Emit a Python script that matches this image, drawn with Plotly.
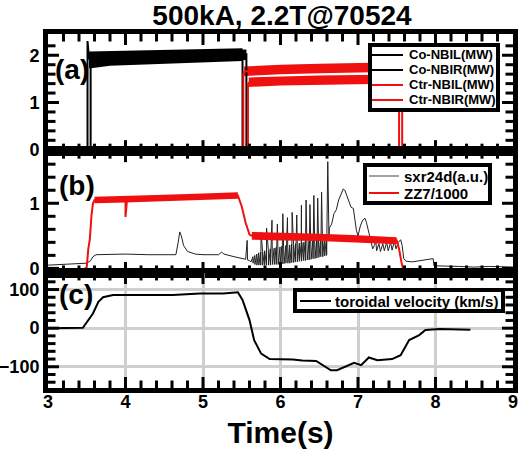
import plotly.graph_objects as go

# ---------------- panel (a): NBI power (MW) ----------------
co_l_t = [3.0, 3.51, 3.51, 3.53, 4.0, 4.5, 5.0, 5.51, 5.51, 9.0]
co_l_v = [0.0, 0.0, 2.30, 1.93, 1.96, 1.98, 2.01, 2.04, 0.0, 0.0]
co_l_band_t = [3.53, 3.8, 4.5, 5.0, 5.51]
co_l_band_lo = [1.72, 1.78, 1.82, 1.85, 1.88]
co_l_band_hi = [2.08, 2.09, 2.11, 2.13, 2.15]

co_r_t = [3.0, 3.55, 3.55, 3.57, 4.0, 4.5, 5.0, 5.56, 5.56, 9.0]
co_r_v = [0.0, 0.0, 1.95, 1.92, 1.94, 1.97, 2.00, 2.02, 0.0, 0.0]
co_r_band_t = [3.56, 3.8, 4.5, 5.0, 5.56]
co_r_band_lo = [1.74, 1.80, 1.84, 1.87, 1.90]
co_r_band_hi = [2.04, 2.06, 2.08, 2.10, 2.12]

ctr_l_t = [3.0, 5.52, 5.52, 5.55, 6.0, 6.5, 7.0, 7.53, 7.53, 9.0]
ctr_l_v = [0.0, 0.0, 1.62, 1.66, 1.70, 1.72, 1.74, 1.75, 0.0, 0.0]
ctr_l_band_t = [5.53, 6.0, 6.5, 7.0, 7.53]
ctr_l_band_lo = [1.56, 1.60, 1.62, 1.64, 1.65]
ctr_l_band_hi = [1.76, 1.80, 1.82, 1.84, 1.85]

ctr_r_t = [3.0, 5.58, 5.58, 5.60, 6.0, 6.5, 7.0, 7.57, 7.57, 9.0]
ctr_r_v = [0.0, 0.0, 1.40, 1.43, 1.45, 1.47, 1.48, 1.49, 0.0, 0.0]
ctr_r_band_t = [5.59, 6.0, 6.5, 7.0, 7.57]
ctr_r_band_lo = [1.33, 1.36, 1.38, 1.39, 1.40]
ctr_r_band_hi = [1.53, 1.55, 1.57, 1.58, 1.59]

# ---------------- panel (b): sxr24d (a.u.) and ZZ7/1000 ----------------
sxr_pre_t = [3.0, 3.2, 3.4, 3.5, 3.55, 3.58, 3.62, 4.0, 4.3, 4.65, 4.68, 4.70, 4.72,
             4.75, 4.80, 4.90, 5.0, 5.2, 5.24, 5.27, 5.4, 5.5, 5.55, 5.57, 5.575, 5.60]
sxr_pre_v = [0.05, 0.06, 0.07, 0.08, 0.12, 0.18, 0.21, 0.22, 0.21, 0.21, 0.40, 0.56, 0.50,
             0.35, 0.26, 0.22, 0.21, 0.21, 0.25, 0.22, 0.18, 0.16, 0.14, 0.43, 0.13, 0.12]
# sawtooth 5.62 - 6.62 s : crash every 0.025 s, trough and peak of each tooth
saw_start = 5.62
saw_period = 0.025
saw_lo = [0.10, 0.08, 0.06, 0.05, 0.05, 0.05, 0.05, 0.05, 0.05, 0.05,
          0.05, 0.06, 0.06, 0.06, 0.06, 0.07, 0.07, 0.07, 0.08, 0.08,
          0.08, 0.09, 0.09, 0.10, 0.10, 0.11, 0.11, 0.12, 0.12, 0.13,
          0.13, 0.14, 0.15, 0.15, 0.16, 0.17, 0.18, 0.18, 0.19, 0.20]
saw_hi = [0.18, 0.20, 0.22, 0.24, 0.25, 0.26, 0.27, 0.28, 0.28, 0.30,
          0.30, 0.31, 0.32, 0.32, 0.33, 0.34, 0.34, 0.35, 0.35, 0.36,
          0.37, 0.37, 0.38, 0.38, 0.39, 0.40, 0.40, 0.41, 0.42, 0.42,
          0.43, 0.44, 0.44, 0.45, 0.46, 0.46, 0.47, 0.48, 0.48, 0.50]
spike_t = [5.75, 5.82, 5.89, 5.96, 6.03, 6.09, 6.15, 6.21, 6.27, 6.33, 6.38, 6.43, 6.48, 6.53, 6.61]
spike_v = [0.55, 0.62, 0.74, 0.68, 0.84, 0.78, 0.86, 0.82, 0.97, 1.05, 0.98, 1.12, 1.08, 1.17, 1.64]
sxr_post_t = [6.625, 6.63, 6.66, 6.69, 6.72, 6.75, 6.78, 6.81, 6.83, 6.86, 6.89, 6.91, 6.94,
              6.96, 6.98, 7.00, 7.03, 7.06, 7.09, 7.11, 7.14, 7.17, 7.19, 7.21, 7.23, 7.24,
              7.27, 7.29, 7.32, 7.34, 7.37, 7.39, 7.42, 7.44, 7.47, 7.49, 7.52, 7.55, 7.57,
              7.59, 7.62, 7.70, 7.80, 7.90, 7.97, 7.98, 8.10, 8.30, 8.50, 8.70, 9.0]
sxr_post_v = [0.50, 0.62, 0.68, 0.84, 0.90, 1.05, 1.15, 1.22, 1.20, 1.10, 1.00, 0.94, 0.92,
              0.75, 0.58, 0.50, 0.65, 0.74, 0.77, 0.70, 0.54, 0.40, 0.30, 0.35, 0.42, 0.27,
              0.38, 0.26, 0.38, 0.27, 0.40, 0.27, 0.40, 0.28, 0.42, 0.30, 0.40, 0.44, 0.35,
              0.15, 0.11, 0.10, 0.12, 0.13, 0.15, 0.04, 0.04, 0.03, 0.02, 0.03, 0.02]

zz7_t = [3.48, 3.50, 3.52, 3.54, 3.56, 3.58, 3.60, 4.0, 4.0, 4.01, 4.02, 4.5, 5.0, 5.45,
         5.50, 5.55, 5.60, 5.63, 6.0, 6.5, 7.0, 7.5, 7.53, 7.56, 7.58]
zz7_v = [0.0, 0.02, 0.30, 0.45, 0.80, 1.00, 1.05, 1.06, 0.79, 1.00, 1.06, 1.08, 1.10, 1.12,
         0.95, 0.70, 0.52, 0.50, 0.49, 0.48, 0.46, 0.43, 0.30, 0.10, 0.0]
zz7_band1_t = [3.60, 4.0, 4.5, 5.0, 5.45]
zz7_band1_lo = [1.00, 1.01, 1.03, 1.05, 1.07]
zz7_band1_hi = [1.10, 1.11, 1.13, 1.15, 1.17]
zz7_band2_t = [5.63, 6.0, 6.5, 7.0, 7.5]
zz7_band2_lo = [0.44, 0.43, 0.42, 0.40, 0.37]
zz7_band2_hi = [0.56, 0.55, 0.53, 0.51, 0.48]

# ---------------- panel (c): toroidal velocity (km/s) ----------------
vt_t = [3.0, 3.22, 3.45, 3.58, 3.65, 3.71, 3.84, 4.15, 4.61, 4.96, 5.26, 5.45, 5.51,
        5.60, 5.66, 5.75, 5.86, 6.16, 6.28, 6.46, 6.65, 6.73, 6.95, 7.04, 7.14, 7.25,
        7.44, 7.55, 7.66, 7.79, 7.87, 8.05, 8.30, 8.45]
vt_v = [0, 0, 1, 38, 68, 80, 86, 86, 86, 90, 90, 93, 73,
        21, -31, -66, -80, -81, -84, -85, -109, -109, -90, -96, -76, -83,
        -80, -70, -31, -18, -5, -2, -3, -4]

# ---------------- axis ticks ----------------
x_major = [3, 4, 5, 6, 7, 8, 9]
ya_major = [0, 1, 2]
yb_major = [0, 1]
yc_major = [-100, 0, 100]

RED = "#f01010"
FONT = "Liberation Sans, Arial, sans-serif"
W, H = 520, 455
ML, MR, MT, MB = 48, 7, 34, 67
PW, PH = W - ML - MR, H - MT - MB
XR = [3, 9]
DOM = {"y": [0.669, 1.0], "y2": [0.325, 0.669], "y3": [0.0, 0.325]}
RANGES = {"y": [-0.03, 2.45], "y2": [-0.07, 1.8], "y3": [-155, 143]}
MAJ_LEN, MIN_LEN, TICK_W = 11, 7.5, 3


def px_x(p):
    return (p - ML) / PW


def px_y(p):
    return (H - MB - p) / PH


def xv_frac(v):
    return (v - XR[0]) / (XR[1] - XR[0])


def yv_frac(ya, v):
    r0, r1 = RANGES[ya]
    d0, d1 = DOM[ya]
    return d0 + (v - r0) / (r1 - r0) * (d1 - d0)


fig = go.Figure()


def band(t, lo, hi, color, xa, ya):
    fig.add_trace(go.Scatter(x=list(t) + list(t)[::-1], y=list(hi) + list(lo)[::-1],
                             fill="toself", fillcolor=color, mode="lines",
                             line=dict(width=0, color=color), showlegend=False,
                             hoverinfo="skip", xaxis=xa, yaxis=ya))


band(co_l_band_t, co_l_band_lo, co_l_band_hi, "black", "x", "y")
band(co_r_band_t, co_r_band_lo, co_r_band_hi, "black", "x", "y")
band(ctr_l_band_t, ctr_l_band_lo, ctr_l_band_hi, RED, "x", "y")
band(ctr_r_band_t, ctr_r_band_lo, ctr_r_band_hi, RED, "x", "y")
series_a = [("Co-NBIL(MW)", co_l_t, co_l_v, "black", 2),
            ("Co-NBIR(MW)", co_r_t, co_r_v, "black", 2),
            ("Ctr-NBIL(MW)", ctr_l_t, ctr_l_v, RED, 2),
            ("Ctr-NBIR(MW)", ctr_r_t, ctr_r_v, RED, 2)]
for name, t, v, c, w in series_a:
    fig.add_trace(go.Scatter(x=t, y=v, name=name, mode="lines", showlegend=False,
                             line=dict(color=c, width=w), xaxis="x", yaxis="y"))

saw_x, saw_y = [], []
for i, (lo, hi) in enumerate(zip(saw_lo, saw_hi)):
    t0 = saw_start + i * saw_period
    saw_x += [t0, t0 + saw_period * 0.94]
    saw_y += [lo, hi]
pts = sorted(zip(sxr_pre_t + saw_x + spike_t + sxr_post_t,
                 sxr_pre_v + saw_y + spike_v + sxr_post_v))
fig.add_trace(go.Scatter(x=[p[0] for p in pts], y=[p[1] for p in pts], name="sxr24d(a.u.)",
                         mode="lines", line=dict(color="#222222", width=1), showlegend=False,
                         xaxis="x2", yaxis="y2"))
band(zz7_band1_t, zz7_band1_lo, zz7_band1_hi, RED, "x2", "y2")
band(zz7_band2_t, zz7_band2_lo, zz7_band2_hi, RED, "x2", "y2")
fig.add_trace(go.Scatter(x=zz7_t, y=zz7_v, name="ZZ7/1000", mode="lines", showlegend=False,
                         line=dict(color=RED, width=2), xaxis="x2", yaxis="y2"))

fig.add_trace(go.Scatter(x=vt_t, y=vt_v, name="toroidal velocity (km/s)", mode="lines",
                         showlegend=False,
                         line=dict(color="black", width=2), xaxis="x3", yaxis="y3"))

# ---- tick marks: one line trace on a hidden full-frame pixel overlay (x4/y4) ----
tx, ty = [], []
x_minor = [x_major[i] + 0.2 * k for i in range(len(x_major) - 1) for k in range(1, 5)]
for ya in ["y", "y2", "y3"]:
    d0, d1 = DOM[ya]
    for vals, ln in [(x_major[1:-1], MAJ_LEN), (x_minor, MIN_LEN)]:
        for v in vals:
            xp = xv_frac(v) * PW
            tx += [xp, xp, None, xp, xp, None]
            ty += [d0 * PH, d0 * PH + ln, None, d1 * PH, d1 * PH - ln, None]

for ya, majors, step in [("y", ya_major, 0.2), ("y2", yb_major, 0.2), ("y3", yc_major, 20)]:
    lo_r, hi_r = RANGES[ya]
    minors = []
    v = majors[0]
    while v - step >= lo_r:
        v -= step
    while v < hi_r - 1e-9:
        if all(abs(v - m) > 1e-6 for m in majors):
            minors.append(round(v, 6))
        v += step
    margin_v = (hi_r - lo_r) * 0.03
    for vals, ln in [(majors, MAJ_LEN), (minors, MIN_LEN)]:
        for val in vals:
            if val <= lo_r + margin_v or val >= hi_r - margin_v:
                continue
            yp = yv_frac(ya, val) * PH
            tx += [0, ln, None, PW, PW - ln, None]
            ty += [yp, yp, None, yp, yp, None]

fig.add_trace(go.Scatter(x=tx, y=ty, mode="lines", showlegend=False, hoverinfo="skip",
                         line=dict(color="black", width=TICK_W), connectgaps=False,
                         xaxis="x4", yaxis="y4"))

shapes, annotations = [], []

# ---- legend boxes (box + sample line + real text) ----
legends = [
    dict(box=(370, 45, 498, 110), lx=(372, 403), tx=407, size=13,
         rows=[(55, "Co-NBIL(MW)", "black", 2), (70, "Co-NBIR(MW)", "black", 2),
               (85, "Ctr-NBIL(MW)", RED, 2), (100, "Ctr-NBIR(MW)", RED, 2)]),
    dict(box=(365, 165, 490, 203), lx=(369, 399), tx=402, size=15,
         rows=[(176, "sxr24d(a.u.)", "#444444", 1), (193, "ZZ7/1000", RED, 2)]),
    dict(box=(295, 290, 503, 311), lx=(300, 331), tx=333, size=15,
         rows=[(301, "toroidal velocity (km/s)", "black", 2)]),
]
for lg in legends:
    l, t, r, b = lg["box"]
    shapes.append(dict(type="rect", xref="paper", yref="paper",
                       x0=px_x(l), x1=px_x(r), y0=px_y(b), y1=px_y(t),
                       line=dict(color="black", width=4), fillcolor="white", layer="above"))
    for (ry, txt, col, lw) in lg["rows"]:
        shapes.append(dict(type="line", xref="paper", yref="paper",
                           x0=px_x(lg["lx"][0]), x1=px_x(lg["lx"][1]),
                           y0=px_y(ry), y1=px_y(ry), line=dict(color=col, width=lw),
                           layer="above"))
        annotations.append(dict(text=txt, x=px_x(lg["tx"]), y=px_y(ry), xref="paper",
                                yref="paper", xanchor="left", yanchor="middle",
                                showarrow=False,
                                font=dict(family=FONT, size=lg["size"], color="black",
                                          weight="bold")))

for lbl, cx, cy in [("(a)", 72, 70), ("(b)", 77, 185), ("(c)", 76, 294)]:
    annotations.append(dict(text=lbl, x=px_x(cx), y=px_y(cy), xref="paper", yref="paper",
                            xanchor="center", yanchor="middle", showarrow=False,
                            font=dict(family=FONT, size=28, color="black", weight="bold")))

TF = dict(family=FONT, size=18, color="black", weight="bold")
frame = dict(showline=True, linecolor="black", linewidth=5, mirror=True, ticks="",
             zeroline=False, automargin=False, tickfont=TF)

fig.update_layout(
    width=W, height=H,
    margin=dict(l=ML, r=MR, t=MT, b=MB),
    template="none",
    paper_bgcolor="white", plot_bgcolor="rgba(0,0,0,0)",
    font=dict(family=FONT, color="black"),
    showlegend=False,
    title=dict(text="500kA, 2.2T@70524", x=px_x(282), xref="paper", xanchor="center",
               y=1 - 15 / H, yanchor="middle", yref="container",
               font=dict(family=FONT, size=28, color="black", weight="bold")),
    xaxis=dict(frame, anchor="y", range=XR, tickvals=x_major, showticklabels=False,
               showgrid=False, matches="x3"),
    xaxis2=dict(frame, anchor="y2", range=XR, tickvals=x_major, showticklabels=False,
                showgrid=False, matches="x3"),
    xaxis3=dict(frame, anchor="y3", range=XR, tickvals=x_major, showgrid=True,
                gridcolor="#cfcfcf", gridwidth=2.5, ticklabelstandoff=-7,
                title=dict(text="Time(s)", standoff=13,
                           font=dict(family=FONT, size=30, color="black", weight="bold"))),
    yaxis=dict(frame, domain=DOM["y"], range=RANGES["y"], tickvals=ya_major,
               showgrid=False),
    yaxis2=dict(frame, domain=DOM["y2"], range=RANGES["y2"], tickvals=yb_major,
                showgrid=False),
    yaxis3=dict(frame, domain=DOM["y3"], range=RANGES["y3"], tickvals=yc_major,
                showgrid=True, gridcolor="#cfcfcf", gridwidth=2.5),
    xaxis4=dict(domain=[0, 1], range=[0, PW], anchor="y4", visible=False,
                automargin=False),
    yaxis4=dict(domain=[0, 1], range=[0, PH], anchor="x4", visible=False,
                automargin=False),
    shapes=shapes,
    annotations=annotations,
)

fig.write_html("out.html")
